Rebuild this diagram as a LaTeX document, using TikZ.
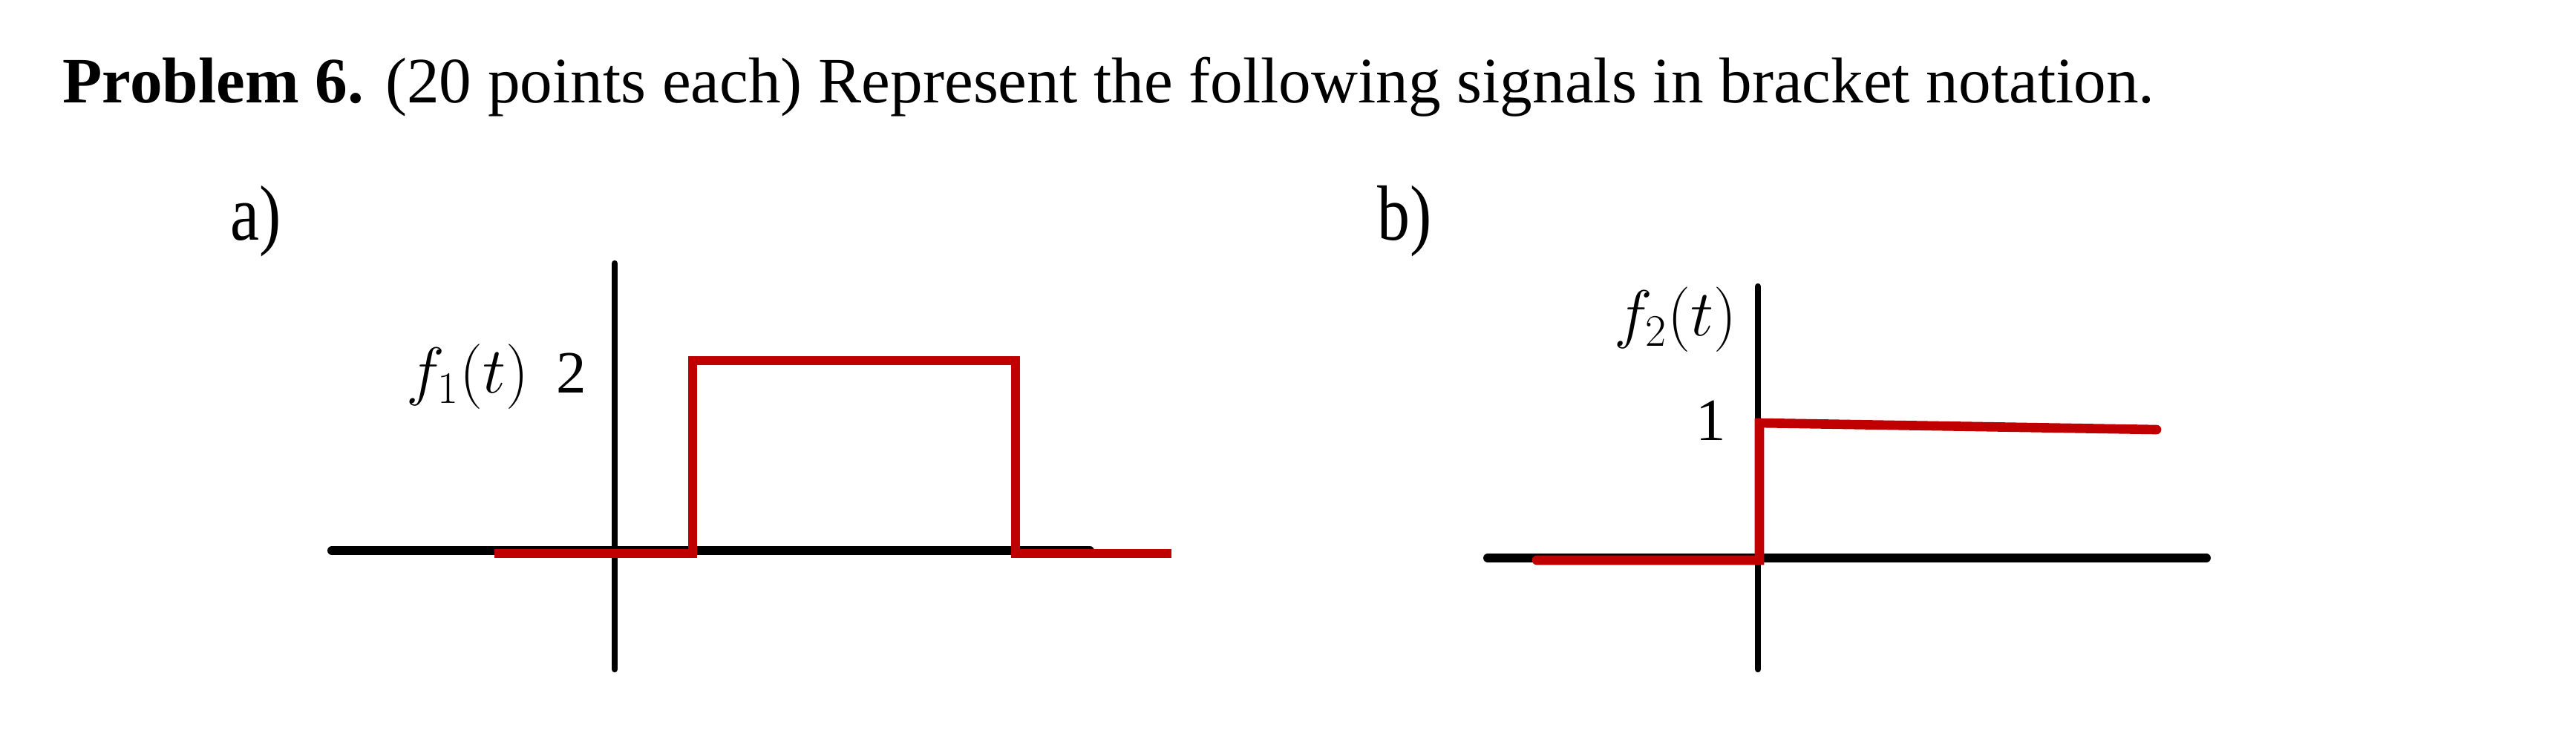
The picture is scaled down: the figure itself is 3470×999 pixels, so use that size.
\documentclass[tikz,border=0pt]{standalone}
\usepackage{fontspec}
\setmainfont{Liberation Serif}
\begin{document}
\begin{tikzpicture}[x=0.01cm,y=-0.01cm,
  ax/.style={line width=3.4pt,black,line cap=round},
  axv/.style={line width=2.4pt,black,line cap=round},
  sig/.style={line width=3.6pt,color=sigred},
  lab/.style={inner sep=0pt}]
\definecolor{sigred}{RGB}{192,0,0}
\useasboundingbox (0,0) rectangle (3470,999);
\node[lab,anchor=base west,font=\fontsize{24.8}{30}\selectfont] (title) at (84,138) {\textbf{Problem 6.} (20 points each) Represent the following signals in bracket notation.};
% a
\node[lab,font=\fontsize{25}{28}\selectfont,yscale=1.2] (la) at (345,298) {a)};
\coordinate (av1) at (828,355); \coordinate (av2) at (828,902);
\coordinate (ah1) at (447,742); \coordinate (ah2) at (1468,742);
\draw[axv] (av1) -- (av2);
\draw[ax] (ah1) -- (ah2);
\coordinate (r0) at (666,746); \coordinate (r1) at (933,746); \coordinate (r2) at (933,486);
\coordinate (r3) at (1368,486); \coordinate (r4) at (1368,746); \coordinate (r5) at (1578,746);
\draw[sig] (r0) -- (r1) -- (r2) -- (r3) -- (r4) -- (r5);
\node[lab,font=\fontsize{24}{28}\selectfont] (f1) at (630,508) {$f_1(t)$};
\node[lab,font=\fontsize{23}{28}\selectfont] (two) at (770,503) {2};
% b
\node[lab,font=\fontsize{25}{28}\selectfont,yscale=1.2] (lb) at (1892,298) {b)};
\coordinate (bv1) at (2368,386); \coordinate (bv2) at (2368,902);
\coordinate (bh1) at (2004,752); \coordinate (bh2) at (2972,752);
\draw[axv] (bv1) -- (bv2);
\draw[ax] (bh1) -- (bh2);
\coordinate (s0) at (2070,755); \coordinate (s1) at (2370,755); \coordinate (s2) at (2370,570);
\coordinate (s3) at (2905,579);
\draw[sig,line cap=round] (s0) -- (s1) -- (s2) -- (s3);
\node[lab,font=\fontsize{24}{28}\selectfont] (f2) at (2257,431) {$f_2(t)$};
\node[lab,font=\fontsize{23}{28}\selectfont] (one) at (2305,567) {1};
\end{tikzpicture}
\end{document}
